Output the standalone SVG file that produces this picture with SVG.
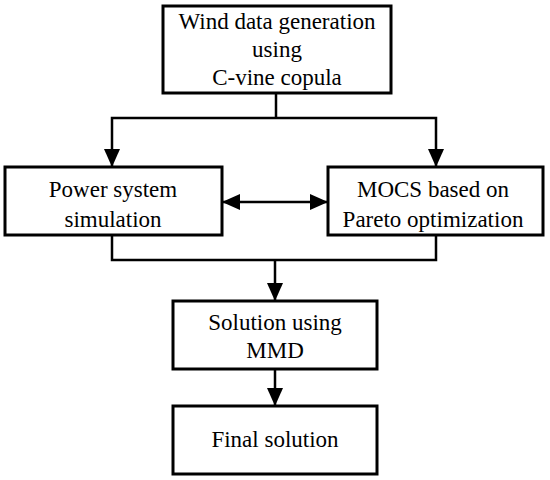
<svg xmlns="http://www.w3.org/2000/svg" width="550" height="480" viewBox="0 0 550 480">
<defs>
<style>
.box{fill:#fff;stroke:#000;stroke-width:3}
.ln{fill:none;stroke:#000;stroke-width:2.5}
</style>
<marker id="ah" markerUnits="userSpaceOnUse" markerWidth="18" markerHeight="18" viewBox="0 0 18 16" refX="18" refY="8" orient="auto-start-reverse">
<path d="M0,0 L18,8 L0,16 Z" fill="#000"/>
</marker>
</defs>
<rect width="550" height="480" fill="#fff"/>
<g id="connectors">
<polyline class="ln" points="276,93 276,118"/>
<polyline class="ln" points="112,167 112,118 436,118 436,167" marker-start="url(#ah)" marker-end="url(#ah)"/>
<line class="ln" x1="222" y1="202" x2="328" y2="202" marker-start="url(#ah)" marker-end="url(#ah)"/>
<polyline class="ln" points="112,235 112,260 436,260 436,235"/>
<line class="ln" x1="275" y1="260" x2="275" y2="301" marker-end="url(#ah)"/>
<line class="ln" x1="275" y1="369" x2="275" y2="406" marker-end="url(#ah)"/>
</g>
<g id="wind">
<rect class="box" x="163" y="6" width="228" height="87"/>
<text x="277" y="29" font-family="'Liberation Serif'" font-size="23" text-anchor="middle">Wind data generation</text>
<text x="277" y="57" font-family="'Liberation Serif'" font-size="23" text-anchor="middle">using</text>
<text x="277" y="85" font-family="'Liberation Serif'" font-size="23" text-anchor="middle">C-vine copula</text>
</g>
<g id="power">
<rect class="box" x="5" y="167" width="217" height="68"/>
<text x="113" y="197" font-family="'Liberation Serif'" font-size="23" text-anchor="middle">Power system</text>
<text x="113" y="227" font-family="'Liberation Serif'" font-size="23" text-anchor="middle">simulation</text>
</g>
<g id="mocs">
<rect class="box" x="328" y="167" width="215" height="68"/>
<text x="433" y="197" font-family="'Liberation Serif'" font-size="23" text-anchor="middle">MOCS based on</text>
<text x="433" y="227" font-family="'Liberation Serif'" font-size="23" text-anchor="middle">Pareto optimization</text>
</g>
<g id="mmd">
<rect class="box" x="173" y="301" width="204" height="68"/>
<text x="275" y="330" font-family="'Liberation Serif'" font-size="23" text-anchor="middle">Solution using</text>
<text x="275" y="358" font-family="'Liberation Serif'" font-size="23" text-anchor="middle">MMD</text>
</g>
<g id="final">
<rect class="box" x="173" y="406" width="204" height="68"/>
<text x="275" y="447" font-family="'Liberation Serif'" font-size="23" text-anchor="middle">Final solution</text>
</g>
</svg>
